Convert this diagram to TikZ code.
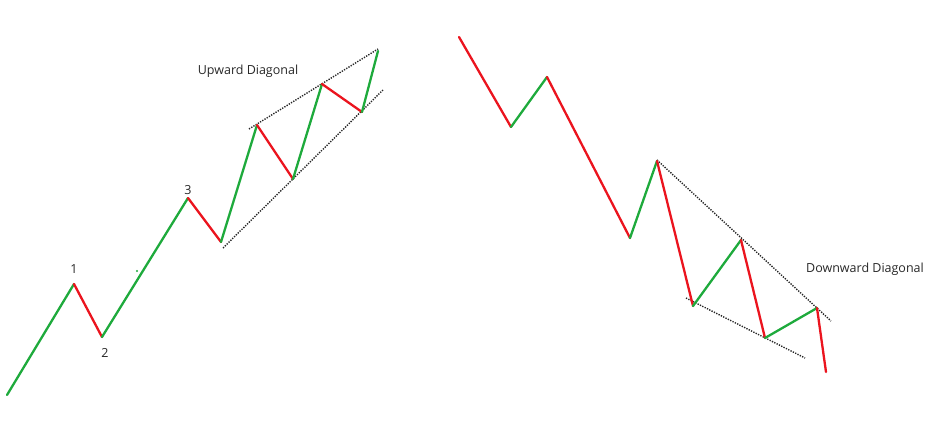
\documentclass[tikz,border=0pt]{standalone}
\usepackage{fontspec}
\setmainfont{Open Sans}
\definecolor{wavegreen}{RGB}{30,170,60}
\definecolor{wavered}{RGB}{235,20,30}
\definecolor{labelgray}{RGB}{40,40,40}
\begin{document}
\begin{tikzpicture}[x=1pt, y=-1pt,
    up/.style={line width=2.3pt, draw=wavegreen, line cap=round, line join=round},
    down/.style={line width=2.3pt, draw=wavered, line cap=round, line join=round},
    guide/.style={line width=1.4pt, black!85, dash pattern=on 1.3pt off 1.3pt},
    lbl/.style={font=\fontsize{12.5}{14}\selectfont, text=labelgray, inner sep=0pt}]

    % --- Frame ---
    \useasboundingbox (0,0) rectangle (939,431);

    % --- Upward diagonal: wave points ---
    \coordinate (S) at (7,395);
    \coordinate (W1) at (74,284);
    \coordinate (W2) at (102,337);
    \coordinate (W3) at (188,198);
    \coordinate (W4) at (221,242);
    \coordinate (Ua) at (257,125);
    \coordinate (Ub) at (293,179);
    \coordinate (Uc) at (322,84);
    \coordinate (Ud) at (362,112);
    \coordinate (Ue) at (378,51);

    % Guide line end points
    \coordinate (UT1) at (249,129);
    \coordinate (UT2) at (378,49);
    \coordinate (UB1) at (223,248);
    \coordinate (UB2) at (383,90);

    % --- Drawing Elements ---
    \draw[guide] (UT1) -- (UT2);
    \draw[guide] (UB1) -- (UB2);

    \draw[up] (S) -- (W1);
    \draw[down] (W1) -- (W2);
    \draw[up] (W2) -- (W3);
    \draw[down] (W3) -- (W4);
    \draw[up] (W4) -- (Ua);
    \draw[down] (Ua) -- (Ub);
    \draw[up] (Ub) -- (Uc);
    \draw[down] (Uc) -- (Ud);
    \draw[up] (Ud) -- (Ue);
    \fill[wavegreen] (137,271) circle (1.1pt);

    % --- Labels ---
    \node[lbl] (n1) at (74,269) {1};
    \node[lbl] (n2) at (105,353) {2};
    \node[lbl] (n3) at (188,190) {3};
    \node[lbl] (upname) at (248,71) {Upward Diagonal};

    % --- Downward diagonal: wave points ---
    \coordinate (T) at (459,37);
    \coordinate (V1) at (511,127);
    \coordinate (V2) at (547,77);
    \coordinate (V3) at (630,238);
    \coordinate (V4) at (657,161);
    \coordinate (Da) at (693,306);
    \coordinate (Db) at (741,240);
    \coordinate (Dc) at (765,338);
    \coordinate (Dd) at (817,308);
    \coordinate (De) at (826,372);

    % Guide line end points
    \coordinate (DT1) at (657,160);
    \coordinate (DT2) at (831,321);
    \coordinate (DB1) at (686,298);
    \coordinate (DB2) at (805,358);

    \draw[guide] (DT1) -- (DT2);
    \draw[guide] (DB1) -- (DB2);

    \draw[down] (T) -- (V1);
    \draw[up] (V1) -- (V2);
    \draw[down] (V2) -- (V3);
    \draw[up] (V3) -- (V4);
    \draw[down] (V4) -- (Da);
    \draw[up] (Da) -- (Db);
    \draw[down] (Db) -- (Dc);
    \draw[up] (Dc) -- (Dd);
    \draw[down] (Dd) -- (De);

    \node[lbl] (downname) at (865,269) {Downward Diagonal};

\end{tikzpicture}
\end{document}
